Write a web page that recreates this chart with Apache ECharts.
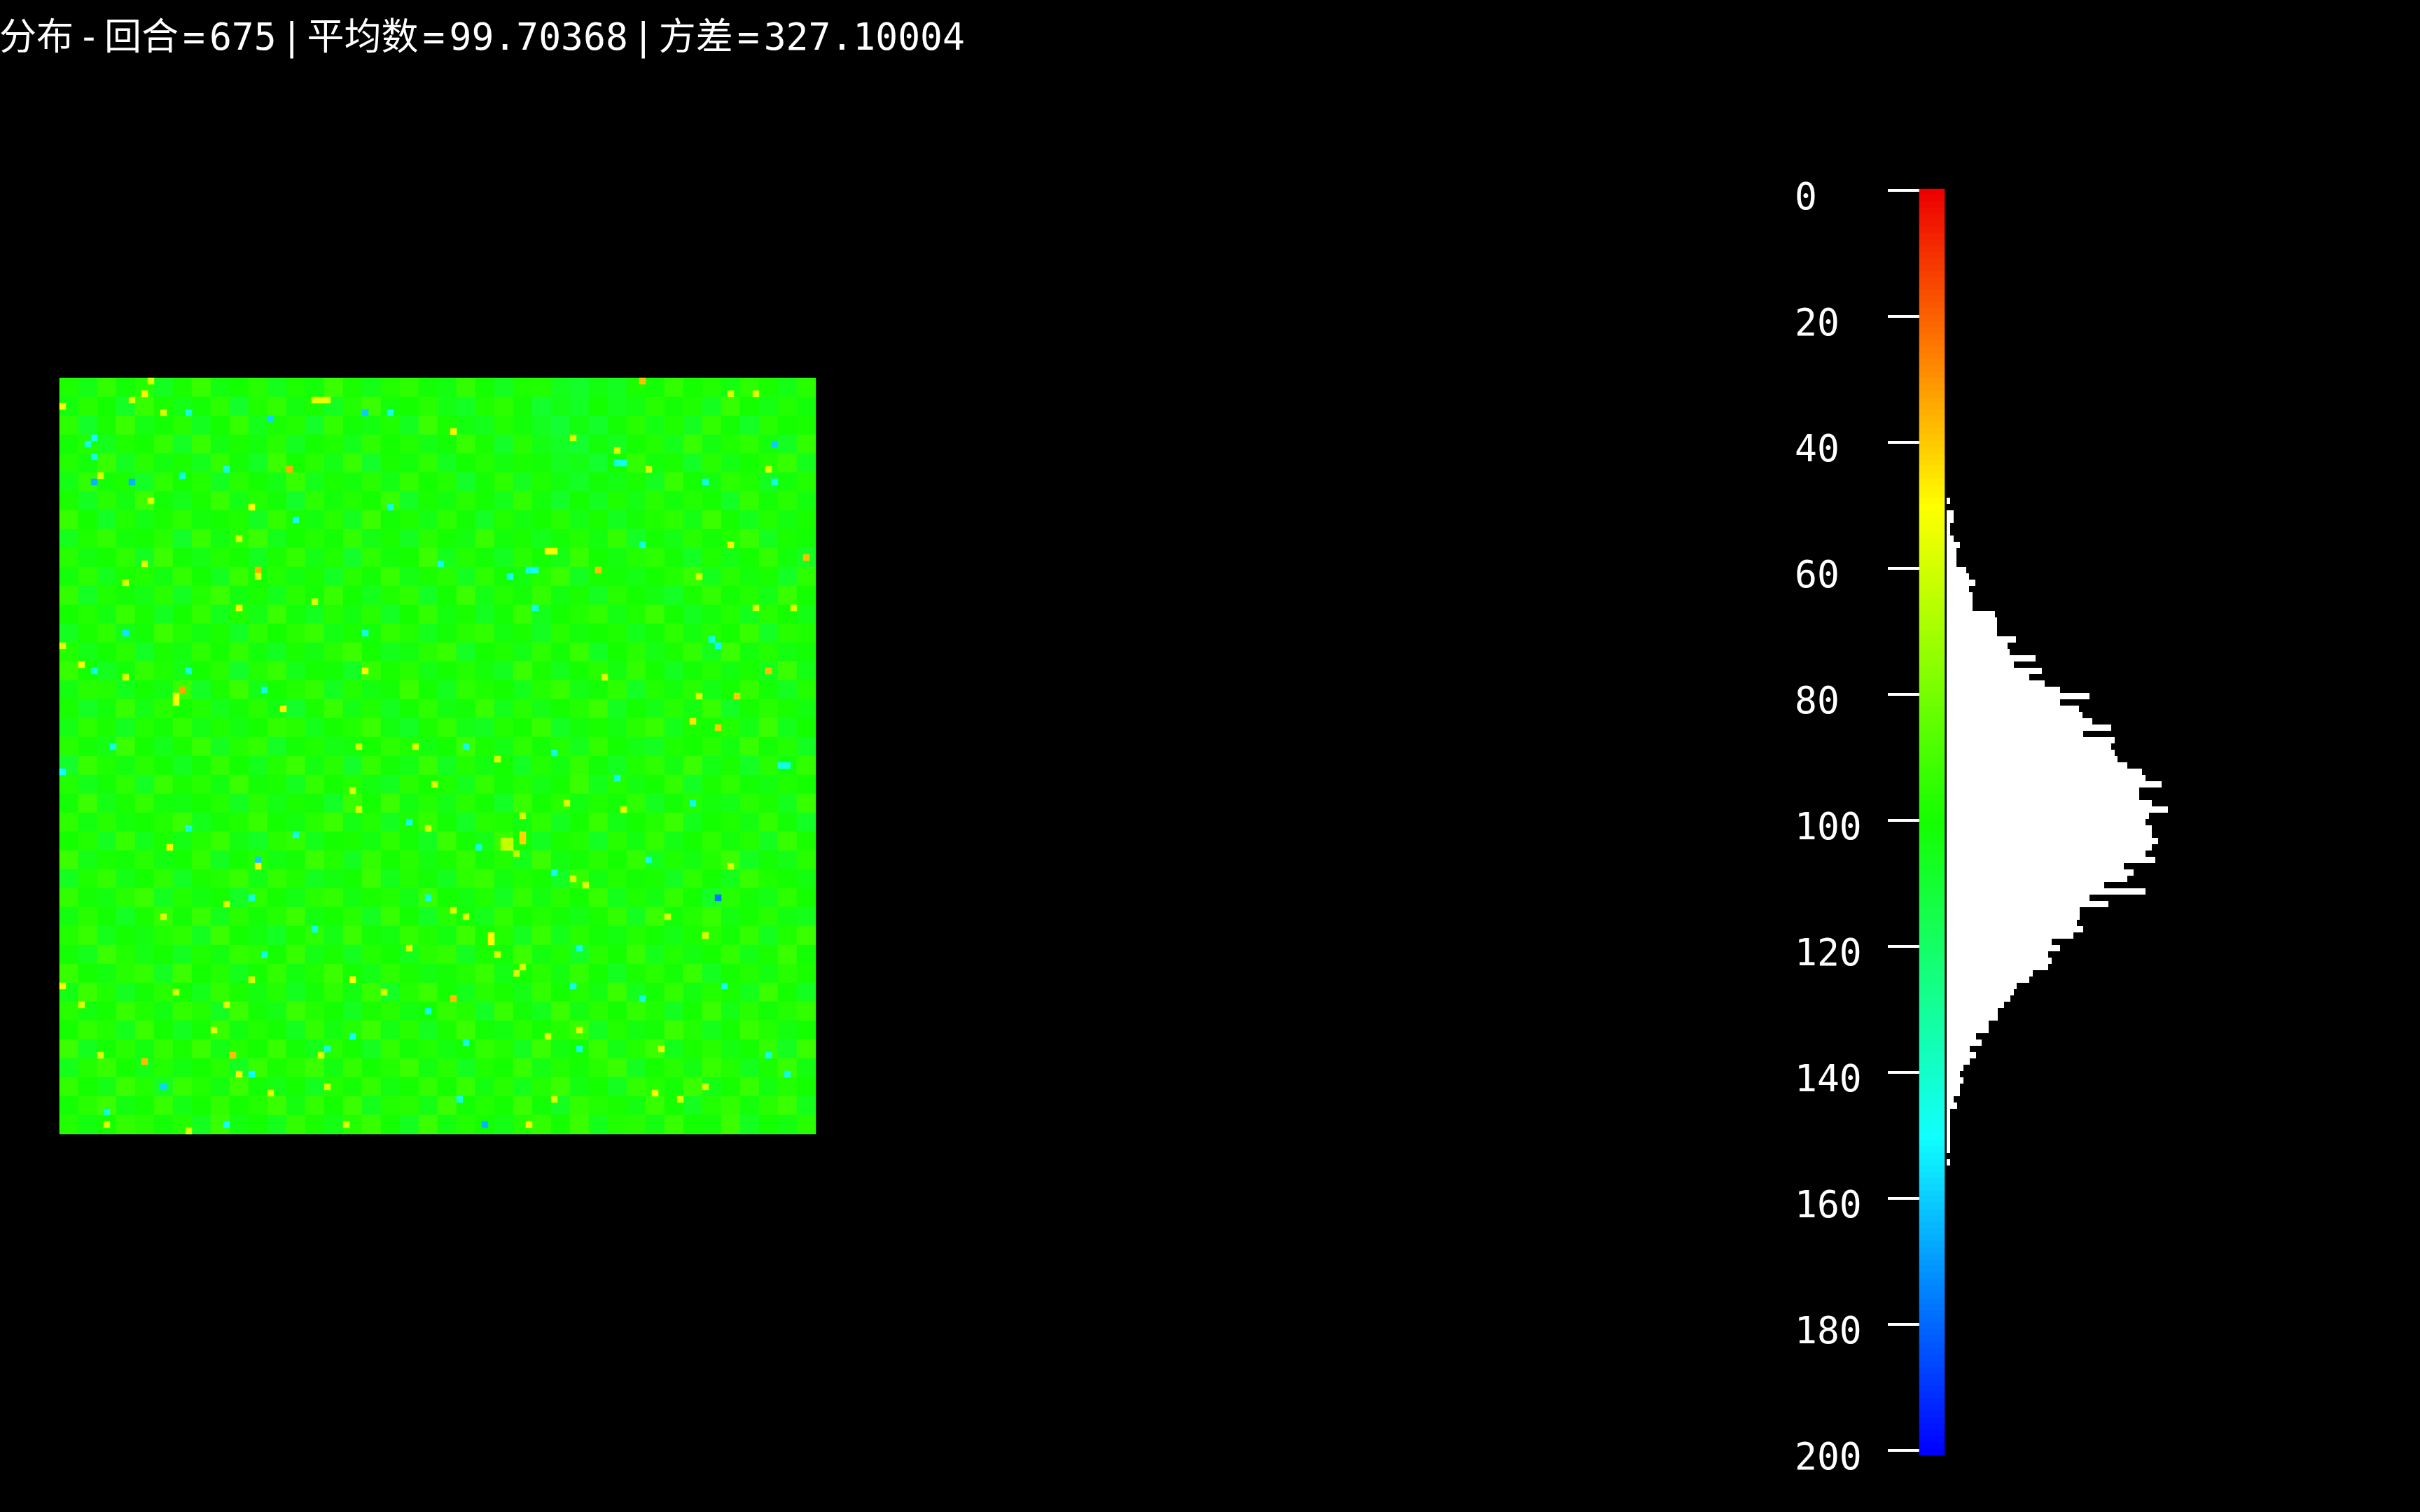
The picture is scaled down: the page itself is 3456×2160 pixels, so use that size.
<!DOCTYPE html>
<html>
<head>
<meta charset="utf-8">
<style>html,body{margin:0;padding:0;background:#000;}#c{width:3456px;height:2160px;}</style>
<script src="https://cdn.jsdelivr.net/npm/echarts@6/dist/echarts.min.js"></script>
</head>
<body>
<div id="c"></div>
<script>
// Title and axis text
const titleText = "分布 - 回合 = 675 | 平均数 = 99.70368 | 方差 = 327.10004";
const tickMin = 0, tickMax = 200, tickStep = 20;

// Histogram: cell counts per integer value, read row by row, starting at histStart
const histStart = 49;
const histCounts = [5,0,10,10,5,5,10,19,14,14,14,28,32,41,32,37,37,37,69,72,72,72,99,87,90,127,96,136,118,140,162,204,162,189,194,208,235,195,240,235,240,244,258,279,284,307,275,275,293,316,289,284,293,293,302,293,284,298,253,267,258,225,284,204,231,190,190,186,195,181,150,162,145,150,145,123,118,100,96,91,82,73,73,60,60,42,50,33,42,33,24,19,24,19,19,10,15,5,5,5,5,5,5,5,0,5];

// Colour scale stops, evenly spaced from value 0 to value 200
const scaleColors = ['#ee0000','#ff7a00','#ffff00','#8cff00','#14ff00','#14ff80','#10ffff','#0080ff','#0000ff'];

// Heatmap, coarse level: estimated mean of each 3x3 block of cells (eye estimates, not per-cell readings)
const blockValues = [
[98,104,94,101,97,106,99,93,103,100,96,105,98,102,92,99,104,97,95,101,103,94,100,106,98,97,105,108,103,106,99,101,94,100,97,103,95,99,104,96],
[103,96,100,107,93,99,104,101,95,108,98,94,103,99,106,97,92,102,100,96,104,107,98,95,101,109,104,107,100,105,103,96,101,98,106,93,100,104,97,102],
[95,108,99,92,104,101,96,106,100,93,105,99,97,108,94,101,103,98,106,92,99,103,105,97,102,106,110,103,108,101,96,104,98,106,94,101,107,96,100,99],
[101,97,105,98,100,94,107,93,103,99,102,96,106,100,98,105,95,100,97,104,101,93,99,108,96,104,107,109,102,106,100,97,105,93,103,98,95,102,106,94],
[97,102,93,106,96,103,99,105,94,101,107,92,100,96,104,93,108,99,102,95,106,100,97,103,99,101,106,104,109,100,94,102,99,107,96,104,100,97,93,105],
[104,94,101,99,107,95,100,97,106,96,100,104,93,105,99,102,96,104,94,100,97,108,101,95,106,98,103,107,101,104,99,106,93,100,103,95,98,106,102,97],
[99,106,96,103,92,101,105,99,93,104,97,101,108,95,102,97,100,93,107,99,103,96,100,105,94,102,108,100,106,98,104,96,102,97,100,107,94,101,96,103],
[93,100,107,97,104,99,95,102,100,98,106,94,99,103,96,106,92,101,98,104,95,101,107,97,103,100,96,104,99,106,101,98,95,104,92,100,105,97,103,99],
[105,98,94,102,100,96,108,93,103,97,92,105,100,97,101,94,104,99,106,96,100,103,93,102,99,105,101,97,103,94,107,100,104,96,101,98,93,106,99,101],
[96,103,100,95,106,92,101,104,97,100,106,99,94,104,98,108,95,102,100,92,105,97,101,106,96,100,104,93,100,103,97,95,101,107,98,104,100,94,102,106],
[102,95,105,99,97,103,94,100,106,93,101,97,103,99,107,96,101,93,104,99,96,106,95,100,103,97,92,106,99,101,104,100,97,93,105,96,102,99,107,95],
[94,107,98,101,104,96,106,97,92,103,99,105,96,101,93,100,105,98,95,107,100,92,104,97,101,94,103,99,106,96,100,103,107,99,94,101,97,104,93,100],
[100,97,103,93,99,106,100,94,105,98,104,92,102,106,97,103,96,107,100,94,103,99,106,101,93,105,100,97,94,104,98,92,100,106,102,97,105,96,100,104],
[106,99,95,104,101,92,97,103,99,107,95,100,96,93,104,99,102,94,97,105,101,96,94,103,99,106,96,102,100,98,105,101,95,103,97,100,93,107,96,98],
[97,104,100,96,107,99,103,95,100,94,102,106,99,103,96,92,100,105,103,96,93,107,100,98,104,95,101,93,107,100,96,104,99,94,105,92,102,97,103,101],
[93,100,106,102,94,98,104,100,96,108,97,93,105,100,101,107,94,99,96,104,100,97,102,106,92,99,105,100,96,103,94,100,106,101,97,103,99,105,92,104],
[103,96,97,105,100,103,93,107,99,92,104,100,97,94,106,97,103,101,92,100,106,95,98,100,105,97,93,104,101,95,107,97,102,96,104,100,94,101,106,97],
[99,107,102,93,104,96,100,97,105,101,96,103,108,99,93,104,98,106,100,95,103,101,93,105,96,104,100,97,92,106,100,104,96,103,93,107,100,96,99,103],
[104,95,99,106,97,101,94,104,98,103,100,94,96,105,100,97,92,103,107,99,94,104,106,97,100,93,107,102,99,103,96,93,105,99,101,97,104,92,105,100],
[96,101,104,92,100,105,99,93,106,97,94,107,101,98,104,102,100,95,98,103,100,92,99,104,95,101,97,105,94,100,104,106,98,100,96,103,93,101,97,106],
[108,93,98,103,96,100,106,101,94,100,105,97,92,103,96,108,94,101,104,93,106,97,103,100,107,97,103,94,101,106,98,95,103,92,104,99,107,96,102,94],
[97,105,101,95,107,93,99,96,103,92,101,99,106,94,100,97,103,106,96,100,98,105,94,101,97,104,100,92,105,97,103,100,94,107,99,95,101,103,98,100],
[101,92,104,99,94,102,103,100,97,106,96,104,99,101,107,93,100,92,103,97,104,96,100,107,93,100,96,103,98,101,95,106,101,97,102,104,96,99,105,93],
[95,103,96,102,100,97,92,105,101,98,93,100,103,96,92,104,97,106,99,94,101,107,96,98,103,95,106,100,93,104,100,97,92,105,100,98,103,94,101,107],
[100,97,106,93,105,99,104,97,93,103,107,96,94,105,100,99,103,95,101,106,92,100,104,93,100,106,99,97,107,96,103,94,104,100,95,102,97,106,93,99],
[92,104,99,101,96,103,100,94,106,100,97,103,101,92,97,106,94,100,96,103,99,94,101,97,105,92,103,101,96,100,94,105,98,103,97,92,106,101,104,96],
[106,98,94,104,100,95,107,99,97,93,104,94,98,106,103,100,92,105,97,101,106,95,93,103,98,100,107,94,103,97,101,99,106,95,100,105,93,98,100,103],
[94,101,103,96,92,106,97,103,100,107,95,100,104,96,94,103,99,97,104,93,100,103,98,106,94,103,96,100,93,105,98,103,94,100,107,96,101,104,95,100],
[103,96,100,107,99,94,101,93,105,96,101,97,92,103,100,96,106,93,100,107,96,101,105,94,100,97,101,104,99,94,106,92,101,97,93,103,100,96,103,105],
[97,93,105,100,103,97,95,106,92,100,103,107,99,95,104,92,101,103,94,98,103,92,100,97,106,93,105,96,101,103,97,100,104,99,96,101,94,106,98,92],
[101,105,92,97,104,100,106,98,103,94,96,100,93,104,99,106,97,100,105,96,94,106,99,101,92,103,98,107,96,100,93,105,97,103,100,94,104,99,92,101],
[93,100,103,96,94,106,92,100,97,105,100,94,103,98,92,100,104,95,99,103,101,97,93,104,100,96,103,94,100,106,99,96,101,93,106,100,97,103,96,99],
[104,92,98,106,101,96,100,105,94,99,103,97,106,101,95,103,93,107,97,92,100,105,96,99,104,94,100,97,103,92,105,101,94,103,97,99,105,92,100,106],
[96,103,100,93,98,103,94,97,106,92,101,104,92,97,100,106,99,96,103,100,94,97,107,93,101,105,92,103,96,100,94,98,106,100,92,104,96,101,97,94],
[100,94,97,105,92,100,106,101,93,103,97,100,106,94,103,97,92,104,96,106,99,92,101,103,96,100,97,93,106,97,103,101,92,97,105,100,93,97,103,100],
[92,106,101,96,103,94,99,92,104,97,100,93,101,105,96,100,106,94,101,97,103,100,94,97,106,92,103,100,93,104,97,92,105,99,96,103,100,94,106,92],
[105,97,93,100,104,97,103,100,96,106,93,99,96,92,103,94,100,97,92,103,96,106,98,100,93,104,97,101,96,92,106,100,96,103,93,97,105,99,93,103],
[94,100,104,92,97,106,93,97,103,92,101,104,100,106,97,101,94,103,100,94,100,93,103,96,105,97,92,103,100,106,94,97,101,92,104,100,93,103,97,100],
[101,96,92,103,100,93,104,100,94,100,97,92,103,94,100,92,105,97,96,104,92,101,97,100,92,101,106,94,97,99,103,93,100,106,97,94,102,96,92,105],
[97,103,100,94,96,101,97,106,92,103,100,105,94,99,104,97,93,100,106,92,103,97,100,104,97,94,100,92,105,97,96,103,93,100,101,92,106,100,103,96]
];

// Heatmap, individually legible cells: [column, row, value]
const extremeCells = [
[104,82,178],[5,16,165],[11,16,165],[36,14,35],[31,30,35],[85,30,38],[118,28,38],[112,46,38],[19,49,33],[92,0,38],
[13,108,38],[27,107,38],[62,98,38],[73,72,42],[73,73,42],[107,50,40],[104,55,40],[67,118,165],[16,112,158],[78,78,145],
[31,76,160],[31,77,48],[48,5,160],[33,6,158],[0,62,150],[113,10,160],[10,40,155],[18,50,52],[18,51,52],[104,42,152],
[30,20,50],[28,36,48],[35,52,48],[100,54,45],[77,27,52],[78,27,52],[40,3,55],[41,3,55],[42,3,55],[0,96,52],
[13,2,48],[0,4,52],[106,26,48],[62,8,48],[48,46,48],[17,74,48],[68,88,50],[68,89,50],[28,110,48],[46,95,50],
[74,118,48],[46,104,150],[30,110,150],[26,118,150],[114,61,145],[115,61,145],[5,9,148],[71,31,148],[103,41,146],[58,71,60],
[70,73,62],[71,74,62],[70,74,64],[71,73,64],[72,75,64],[52,5,146],[89,13,148],[75,30,148],[3,45,52],[94,113,52]
];
// Visibly yellow cells, value about 58
const yellowCells = [[14,0],[11,3],[16,5],[6,15],[14,19],[28,25],[13,29],[10,32],[40,35],[31,31],[0,42],[10,47],[26,83],[16,85],[18,97],[30,95],[3,99],[26,99],[24,103],[6,107],[41,107],[42,112],[7,118],[45,118],[20,119],[33,113],[55,90],[69,91],[73,93],[72,94],[51,97],[62,84],[64,85],[56,58],[47,58],[69,60],[59,64],[46,65],[47,68],[73,69],[89,68],[80,67],[83,80],[81,79],[106,77],[96,85],[102,88],[112,14],[88,11],[81,9],[93,14],[106,2],[110,2],[101,31],[110,36],[116,36],[86,47],[101,50],[77,104],[82,103],[95,106],[102,112],[98,114],[78,114]];
const yellowValue = 58;
// Visibly cyan cells, value about 144
const cyanCells = [[4,10],[5,12],[20,5],[26,14],[19,15],[37,22],[52,20],[60,29],[74,30],[75,36],[88,13],[102,16],[113,16],[92,26],[48,40],[5,46],[20,46],[32,49],[8,58],[64,58],[78,59],[88,63],[100,67],[55,70],[20,71],[37,72],[66,74],[93,76],[58,82],[30,82],[40,87],[32,91],[82,90],[81,96],[92,98],[64,105],[82,106],[42,106],[7,116],[63,114],[105,96],[112,107],[115,110],[58,100]];
const cyanValue = 144;

const blockAxis = Array.from({length: blockValues.length}, (_, i) => i);
const cellAxis = Array.from({length: 120}, (_, i) => i);
const rowAxis = Array.from({length: tickMax - tickMin + 1}, (_, i) => tickMin + i);

const blockData = [];
blockValues.forEach((row, y) => row.forEach((v, x) => blockData.push([x, y, v])));
const legibleData = extremeCells
  .concat(yellowCells.map(c => [c[0], c[1], yellowValue]))
  .concat(cyanCells.map(c => [c[0], c[1], cyanValue]));
const histData = rowAxis.map(v => {
  const c = histCounts[v - histStart];
  return c === undefined ? 0 : c;
});
const barData = rowAxis.map(v => [0, v, v]);

const hiddenCat = (data, gridIndex, inverse) => ({
  type: 'category', data, gridIndex, inverse: !!inverse,
  axisLine: {show: false}, axisTick: {show: false}, axisLabel: {show: false}, splitLine: {show: false}
});
const mono = '"DejaVu Sans Mono","Noto Sans CJK SC",monospace';

const option = {
  backgroundColor: '#000',
  animation: false,
  title: {
    left: -6, top: 26,
    text: titleText.split(' ').join('{s| }'),
    textStyle: {
      color: '#fff', fontFamily: mono, fontSize: 53, fontWeight: 'normal',
      rich: {s: {fontSize: 10, fontFamily: mono, color: '#fff'}}
    }
  },
  visualMap: {
    show: false, type: 'continuous', min: tickMin, max: tickMax, dimension: 2,
    seriesIndex: [0, 1, 2], inRange: {color: scaleColors}
  },
  grid: [
    {left: 85, top: 540, width: 1080, height: 1080},
    {left: 85, top: 540, width: 1080, height: 1080},
    {left: 2741, top: 270, width: 36, height: 1809},
    {left: 2780, top: 270, width: 400, height: 1809},
    {left: 2741, top: 272, width: 36, height: 1800}
  ],
  xAxis: [
    hiddenCat(blockAxis, 0),
    hiddenCat(cellAxis, 1),
    hiddenCat([0], 2),
    {type: 'value', gridIndex: 3, min: 0, max: 400, show: false},
    {type: 'value', gridIndex: 4, min: 0, max: 1, show: false}
  ],
  yAxis: [
    hiddenCat(blockAxis, 0, true),
    hiddenCat(cellAxis, 1, true),
    hiddenCat(rowAxis, 2, true),
    hiddenCat(rowAxis, 3, true),
    {
      type: 'value', gridIndex: 4, inverse: true, min: tickMin, max: tickMax, interval: tickStep,
      axisLine: {show: false},
      axisTick: {show: true, length: 45, lineStyle: {color: '#fff', width: 4}},
      splitLine: {show: false},
      axisLabel: {
        show: true, color: '#fff', fontFamily: mono, fontSize: 53, align: 'left',
        margin: 178, verticalAlign: 'top', lineHeight: 26
      }
    }
  ],
  series: [
    {type: 'heatmap', xAxisIndex: 0, yAxisIndex: 0, data: blockData, progressive: 0, emphasis: {disabled: true}},
    {type: 'heatmap', xAxisIndex: 1, yAxisIndex: 1, data: legibleData, progressive: 0, z: 3, emphasis: {disabled: true}},
    {type: 'heatmap', xAxisIndex: 2, yAxisIndex: 2, data: barData, progressive: 0, emphasis: {disabled: true}},
    {
      type: 'bar', xAxisIndex: 3, yAxisIndex: 3, data: histData, barWidth: '100%', barCategoryGap: 0,
      itemStyle: {color: '#fff'}, emphasis: {disabled: true}, large: false
    }
  ]
};
const chart = echarts.init(document.getElementById('c'), null, {width: 3456, height: 2160, renderer: 'canvas'});
chart.setOption(option);
</script>
</body>
</html>
